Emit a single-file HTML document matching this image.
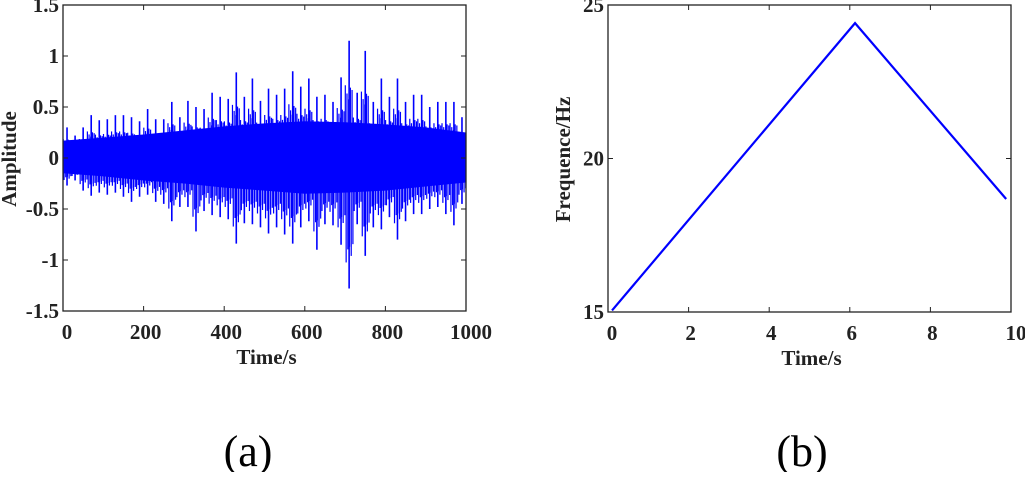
<!DOCTYPE html>
<html><head><meta charset="utf-8"><style>
body{margin:0;background:#fff;width:1025px;height:472px;overflow:hidden}
svg text{font-family:"Liberation Serif",serif}
.t{font-weight:bold;font-size:21px;fill:#222}
</style></head><body>
<svg id="c" width="1025" height="472"></svg>
<script>
const binCenters=[10,30,50,70,90,110,130,150,170,190,210,230,250,270,290,310,330,350,370,390,410,430,450,470,490,510,530,550,570,590,610,630,650,670,690,710,730,750,770,790,810,830,850,870,890,910,930,950,970,990];
const binMax=[.30,.22,.30,.42,.37,.38,.42,.42,.40,.36,.48,.38,.38,.55,.40,.56,.50,.48,.64,.60,.58,.84,.60,.78,.56,.68,.62,.68,.85,.70,.78,.60,.62,.55,.79,1.15,.64,1.05,.55,.78,.60,.78,.55,.62,.62,.50,.55,.55,.55,.40];
const binMin=[-.27,-.22,-.32,-.37,-.34,-.36,-.34,-.38,-.43,-.38,-.36,-.43,-.45,-.62,-.48,-.48,-.72,-.52,-.56,-.58,-.60,-.84,-.64,-.65,-.68,-.74,-.68,-.75,-.84,-.68,-.62,-.90,-.65,-.66,-.85,-1.28,-.65,-.96,-.68,-.70,-.58,-.80,-.62,-.55,-.55,-.50,-.48,-.55,-.66,-.45];
const coreT=[0,100,200,300,400,500,600,700,800,900,1000];
const coreHi=[.17,.2,.23,.27,.31,.34,.36,.35,.33,.30,.25];
const coreLo=[-.15,-.18,-.22,-.25,-.29,-.32,-.35,-.34,-.32,-.28,-.24];
const xTicksA=[0,200,400,600,800,1000];
const yTicksA=[-1.5,-1,-0.5,0,0.5,1,1.5];
const yLabA=["-1.5","-1","-0.5","0","0.5","1","1.5"];
const chirpT=[0.1,6.13,9.88];
const chirpF=[15.05,24.41,18.68];
const xTicksB=[0,2,4,6,8,10];
const yTicksB=[15,20,25];
const NS="http://www.w3.org/2000/svg";
const svg=document.getElementById('c');
function mk(tag,attrs,parent,txt){const e=document.createElementNS(NS,tag);for(const k in attrs)e.setAttribute(k,attrs[k]);if(txt!==undefined)e.textContent=txt;(parent||svg).appendChild(e);return e;}
function axes(name,x0,x1,y0,y1,xmin,xmax,ymin,ymax,xt,yt,ylab,xl,yl,ycx){
  const g=mk('g',{});
  
  
  const sx=v=>x0+(v-xmin)/(xmax-xmin)*(x1-x0);
  const sy=v=>y1-(v-ymin)/(ymax-ymin)*(y1-y0);
  return {g,sx,sy,draw(){
    const f=mk('rect',{x:x0,y:y0,width:x1-x0,height:y1-y0,fill:'none',stroke:'#222','stroke-width':1.3},g);
    
    xt.forEach(v=>{const X=sx(v);mk('line',{x1:X,x2:X,y1:y1,y2:y1-5,stroke:'#222'},g);mk('line',{x1:X,x2:X,y1:y0,y2:y0+5,stroke:'#222'},g);
      const t=mk('text',{x:X+(v===xmax?5:(v===xmin?4:2)),y:y1+28,'text-anchor':'middle',class:'t'},g,String(v));
      });
    yt.forEach((v,i)=>{const Y=sy(v);mk('line',{x1:x0,x2:x0+5,y1:Y,y2:Y,stroke:'#222'},g);mk('line',{x1:x1,x2:x1-5,y1:Y,y2:Y,stroke:'#222'},g);
      const t=mk('text',{x:x0-4,y:Y+7,'text-anchor':'end',class:'t'},g,ylab[i]);
      });
    const a=mk('text',{x:(x0+x1)/2+2,y:y1+53,'text-anchor':'middle',class:'t'},g,xl);
    
    const cy=(y0+y1)/2+1;const cx=ycx;
    const b=mk('text',{x:cx,y:cy,'text-anchor':'middle',class:'t',transform:`rotate(-90 ${cx} ${cy})`},g,yl);
    
  }};
}
const A=axes('plot-a',63,466,5,311,0,1000,-1.5,1.5,xTicksA,yTicksA,yLabA,'Time/s','Amplitude',16);
let pts=coreT.map((t,i)=>A.sx(t)+','+A.sy(coreHi[i])).concat(coreT.slice().reverse().map((t,i)=>A.sx(t)+','+A.sy(coreLo[coreT.length-1-i])));
const core=mk('polygon',{points:pts.join(' '),fill:'#0000ff'},A.g);

const frac=[.62,.8,.55,.7,.5,.68,.6,.75,.58,.66];
binCenters.forEach((t,i)=>{
  for(let k=0;k<10;k++){const tt=t-9.5+k*2.1;const sgn=k%2?binMin[i]:binMax[i];
    const l=mk('line',{x1:A.sx(tt),x2:A.sx(tt),y1:A.sy(0),y2:A.sy(sgn*frac[k]),stroke:'#0000ff','stroke-width':1.2},A.g);
    }
  const l=mk('line',{x1:A.sx(t),x2:A.sx(t),y1:A.sy(binMin[i]),y2:A.sy(binMax[i]),stroke:'#0000ff','stroke-width':1.6},A.g);
  
});
A.draw();
const B=axes('plot-b',608,1011,5,312,0,10,15,25,xTicksB,yTicksB,yTicksB.map(String),'Time/s','Frequence/Hz',570);
const pl=mk('polyline',{points:chirpT.map((t,i)=>B.sx(t)+','+B.sy(chirpF[i])).join(' '),fill:'none',stroke:'#0000ff','stroke-width':2.2},B.g);

B.draw();
const la=mk('text',{x:248,y:466,'text-anchor':'middle','font-size':44,fill:'#000'},svg,'(a)');

const lb=mk('text',{x:802,y:466,'text-anchor':'middle','font-size':44,fill:'#000'},svg,'(b)');

</script></body></html>
